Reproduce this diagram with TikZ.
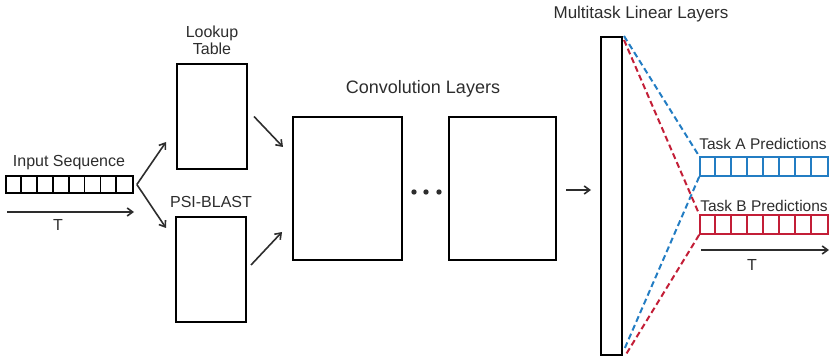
\documentclass[tikz,border=0pt]{standalone}
\usepackage{fontspec}
\setmainfont{Liberation Sans}
\definecolor{taskblue}{RGB}{35,125,195}
\definecolor{taskred}{RGB}{195,30,55}
\definecolor{inkgray}{RGB}{45,45,45}
\usetikzlibrary{arrows.meta,positioning}
\begin{document}
\begin{tikzpicture}[x=1pt,y=-1pt,
  layerbox/.style={draw,line width=2pt,inner sep=0pt},
  cellstrip/.style={draw,line width=1.7pt,inner sep=0pt,minimum width=127pt,minimum height=17pt},
  flowarrow/.style={-{Straight Barb[length=5.5pt,width=8pt]},line width=1.6pt,inkgray},
  headlabel/.style={font=\fontsize{16}{18}\selectfont,text=inkgray,anchor=base,inner sep=0pt},
  taskline/.style={line width=2pt,dash pattern=on 6pt off 3.5pt}
]
  \useasboundingbox (0,0) rectangle (832,363);
  % Input sequence
  \node[cellstrip] (inseq) at (69.5,184.5) {};
  \foreach \i in {1,...,7}
    \draw[line width=1.7pt] ([xshift=\i*15.875pt]inseq.north west) -- ([xshift=\i*15.875pt]inseq.south west);
  \node[headlabel] (inlabel) at (69,167) {Input Sequence};
  \coordinate (tin0) at (7,212);
  \coordinate (tin1) at (134,212);
  \draw[flowarrow] (tin0) -- (tin1);
  \node[headlabel] (tinlabel) at (58,231) {T};
  % Feature boxes
  \node[layerbox,minimum width=70pt,minimum height=105pt] (lookup) at (212,116.5) {};
  \node[headlabel,align=center,font=\fontsize{16}{17}\selectfont] (lookuplabel) at (212,55) {Lookup\\Table};
  \node[layerbox,minimum width=70pt,minimum height=105pt] (psi) at (211,269.5) {};
  \node[headlabel] (psilabel) at (211,208) {PSI-BLAST};
  \draw[flowarrow] ([xshift=3pt]inseq.east) -- ([xshift=-10pt,yshift=-25.5pt]lookup.west);
  \draw[flowarrow] ([xshift=3pt]inseq.east) -- ([xshift=-9pt,yshift=41.5pt]psi.west);
  % Convolution layers
  \node[layerbox,minimum width=109pt,minimum height=143pt] (conv1) at (347.5,188.5) {};
  \node[layerbox,minimum width=107pt,minimum height=143pt] (conv2) at (502.5,188.5) {};
  \node[headlabel,font=\fontsize{18}{20}\selectfont] (convlabel) at (423,94) {Convolution Layers};
  \foreach \x in {414,426,439}
    \fill[inkgray] (\x,192) circle (2.7pt);
  \draw[flowarrow] ([xshift=6pt]lookup.east) -- ([xshift=-9pt,yshift=41.5pt]conv1.west);
  \draw[flowarrow] ([xshift=4pt,yshift=4.5pt]psi.east) -- ([xshift=-10pt,yshift=-43.5pt]conv1.west);
  % Multitask linear layers
  \node[layerbox,minimum width=21pt,minimum height=318pt] (linear) at (611.5,196) {};
  \node[headlabel,font=\fontsize{17}{20}\selectfont] (linearlabel) at (641,19) {Multitask Linear Layers};
  \draw[flowarrow] ([xshift=9pt,yshift=-1.5pt]conv2.east) -- ([xshift=-9pt,yshift=-1.5pt]conv2.east -| linear.west);
  % Task outputs
  \node[cellstrip,draw=taskblue,minimum width=128pt,minimum height=19pt] (taska) at (764,166.5) {};
  \node[cellstrip,draw=taskred,minimum width=128pt,minimum height=19pt] (taskb) at (764,224.5) {};
  \foreach \i in {1,...,7} {
    \draw[line width=1.7pt,taskblue] ([xshift=\i*16pt]taska.north west) -- ([xshift=\i*16pt]taska.south west);
    \draw[line width=1.7pt,taskred] ([xshift=\i*16pt]taskb.north west) -- ([xshift=\i*16pt]taskb.south west);
  }
  \node[headlabel,font=\fontsize{15.5}{18}\selectfont] (taskalabel) at (763,150) {Task A Predictions};
  \node[headlabel,font=\fontsize{15.5}{18}\selectfont] (taskblabel) at (764,212) {Task B Predictions};
  \coordinate (tout0) at (701,250);
  \coordinate (tout1) at (829,250);
  \draw[flowarrow] (tout0) -- (tout1);
  \node[headlabel] (toutlabel) at (752,270) {T};
  % Dashed task links
  \draw[taskline,taskblue] ([xshift=1pt]linear.north east) -- (taska.north west);
  \draw[taskline,taskblue] (taska.south west) -- ([xshift=1pt,yshift=6pt]linear.south east);
  \draw[taskline,taskred] ([xshift=1pt,yshift=-4pt]linear.north east) -- (taskb.north west);
  \draw[taskline,taskred] (taskb.south west) -- ([xshift=2pt]linear.south east);
\end{tikzpicture}
\end{document}
